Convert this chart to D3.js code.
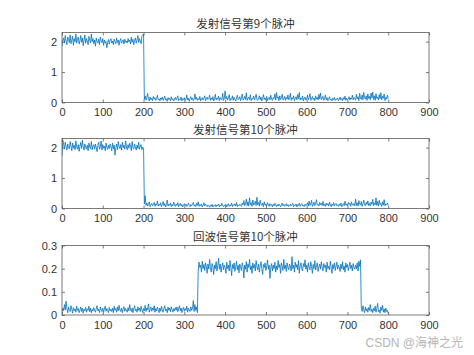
<!DOCTYPE html>
<html><head><meta charset="utf-8">
<script src="https://cdn.jsdelivr.net/npm/d3@7"></script>
<style>
html,body{margin:0;padding:0;background:#fff;}
svg{display:block;}
</style></head>
<body>
<svg id="chart" width="474" height="355"></svg>
<script>
// ---------- data (samples 0..800, every 2nd sample) ----------
const lastSample = 800;
const titles = ["发射信号第9个脉冲", "发射信号第10个脉冲", "回波信号第10个脉冲"];
const xTicks = [0, 100, 200, 300, 400, 500, 600, 700, 800, 900];
const yTicksTx = [0, 1, 2];
const yTicksEcho = [0, 0.1, 0.2, 0.3];

const pulse9 = [
1.85,2.05,2.12,1.95,2.20,2.02,1.90,2.15,2.08,1.97,2.22,1.93,2.05,2.18,1.88,2.10,2.00,2.25,1.95,2.08,
2.15,1.92,2.03,2.20,1.98,2.12,1.87,2.05,2.22,1.95,2.10,2.02,1.90,2.17,2.05,1.96,2.25,2.00,2.10,1.93,
2.05,1.85,2.12,2.00,1.95,2.08,1.90,2.15,2.03,1.97,2.10,1.88,2.05,1.95,2.00,1.80,1.98,2.07,1.92,2.05,
2.10,1.95,2.02,1.90,2.08,2.00,1.93,2.12,1.97,2.05,1.88,2.03,2.10,1.95,2.00,2.06,1.92,2.08,1.98,2.02,
1.95,2.10,2.00,2.05,1.92,2.15,1.98,2.08,1.90,2.03,2.12,1.95,2.05,2.20,1.97,2.10,2.02,1.93,2.18,2.22,
2.25,0.10,0.22,0.08,0.15,0.30,0.12,0.05,0.18,0.09,0.14,0.06,0.20,0.11,0.16,0.07,0.13,0.24,0.09,0.12,
0.05,0.15,0.10,0.18,0.07,0.13,0.21,0.08,0.12,0.04,0.16,0.10,0.14,0.06,0.19,0.09,0.13,0.05,0.11,0.17,
0.08,0.14,0.22,0.06,0.12,0.09,0.18,0.05,0.13,0.10,0.16,0.07,0.11,0.25,0.08,0.14,0.04,0.12,0.19,0.09,
0.15,0.06,0.11,0.28,0.10,0.17,0.07,0.13,0.09,0.20,0.05,0.12,0.16,0.08,0.14,0.22,0.06,0.11,0.18,0.10,
0.13,0.24,0.07,0.15,0.09,0.19,0.05,0.12,0.27,0.08,0.14,0.10,0.21,0.06,0.16,0.11,0.09,0.30,0.07,0.13,
0.38,0.12,0.20,0.08,0.15,0.26,0.06,0.13,0.10,0.22,0.07,0.17,0.11,0.05,0.14,0.24,0.09,0.12,0.19,0.06,
0.15,0.28,0.08,0.12,0.20,0.10,0.32,0.07,0.14,0.18,0.09,0.25,0.06,0.13,0.11,0.21,0.08,0.16,0.27,0.10,
0.07,0.14,0.22,0.09,0.18,0.05,0.12,0.26,0.10,0.15,0.08,0.20,0.06,0.13,0.17,0.09,0.24,0.11,0.07,0.16,
0.12,0.28,0.08,0.33,0.14,0.19,0.06,0.22,0.10,0.15,0.27,0.08,0.13,0.20,0.07,0.17,0.11,0.25,0.09,0.14,
0.30,0.07,0.16,0.11,0.22,0.06,0.13,0.19,0.09,0.26,0.12,0.33,0.08,0.15,0.10,0.21,0.05,0.14,0.18,0.08,
0.12,0.24,0.09,0.16,0.29,0.07,0.13,0.20,0.10,0.15,0.06,0.22,0.11,0.17,0.08,0.27,0.12,0.31,0.09,0.14,
0.20,0.07,0.12,0.25,0.09,0.16,0.06,0.13,0.19,0.08,0.11,0.05,0.14,0.09,0.17,0.07,0.12,0.10,0.15,0.06,
0.11,0.18,0.08,0.13,0.06,0.16,0.10,0.21,0.07,0.14,0.09,0.12,0.19,0.08,0.15,0.11,0.24,0.09,0.17,0.13,
0.08,0.27,0.12,0.19,0.06,0.30,0.14,0.10,0.25,0.09,0.33,0.16,0.11,0.22,0.07,0.28,0.13,0.20,0.09,0.31,
0.15,0.34,0.10,0.22,0.07,0.29,0.13,0.18,0.08,0.26,0.12,0.32,0.09,0.20,0.14,0.28,0.06,0.17,0.11,0.24,
0.13];

const pulse10 = [
1.72,2.25,2.10,1.95,2.18,2.03,1.92,2.12,2.00,1.96,2.20,2.05,1.90,2.15,1.98,2.08,1.93,2.22,2.02,1.95,
2.10,1.88,2.05,2.17,1.97,2.25,2.03,1.92,2.12,2.00,1.95,2.08,1.90,2.15,2.02,1.97,2.20,1.93,2.06,2.10,
1.95,2.12,2.00,1.87,2.08,2.18,1.95,2.03,2.22,1.92,2.10,1.98,2.05,1.90,2.15,2.00,1.94,2.08,1.97,2.12,
2.03,1.90,2.15,1.96,2.08,1.75,2.00,2.12,1.93,2.20,2.05,1.97,2.10,1.92,2.18,2.00,2.08,1.95,2.22,2.02,
1.93,2.10,1.98,2.15,2.05,1.90,2.20,2.00,1.95,2.12,2.03,1.92,2.08,1.97,2.18,1.95,2.05,2.10,1.93,2.02,
1.98,0.15,0.42,0.10,0.18,0.08,0.14,0.22,0.06,0.12,0.17,0.09,0.13,0.20,0.07,0.15,0.11,0.25,0.08,0.14,
0.10,0.19,0.06,0.13,0.23,0.09,0.16,0.05,0.12,0.28,0.08,0.14,0.10,0.18,0.06,0.13,0.09,0.21,0.11,0.07,
0.15,0.10,0.19,0.06,0.12,0.17,0.08,0.13,0.05,0.11,0.16,0.09,0.14,0.07,0.12,0.18,0.10,0.06,0.13,0.09,
0.14,0.20,0.08,0.12,0.06,0.17,0.10,0.22,0.07,0.13,0.09,0.15,0.05,0.11,0.19,0.08,0.14,0.10,0.06,0.12,
0.09,0.04,0.11,0.07,0.14,0.05,0.10,0.08,0.13,0.06,0.12,0.09,0.15,0.05,0.11,0.08,0.17,0.10,0.06,0.12,
0.08,0.14,0.05,0.11,0.16,0.07,0.12,0.09,0.18,0.06,0.13,0.10,0.15,0.08,0.20,0.06,0.12,0.09,0.14,0.11,
0.07,0.18,0.12,0.26,0.09,0.15,0.31,0.10,0.22,0.08,0.35,0.13,0.19,0.07,0.28,0.11,0.16,0.24,0.09,0.37,
0.12,0.20,0.08,0.27,0.14,0.10,0.18,0.06,0.22,0.11,0.15,0.08,0.19,0.12,0.07,0.16,0.10,0.13,0.05,0.14,
0.09,0.17,0.11,0.06,0.13,0.08,0.15,0.10,0.05,0.12,0.18,0.09,0.14,0.07,0.11,0.16,0.08,0.13,0.06,0.10,
0.14,0.08,0.12,0.17,0.06,0.11,0.09,0.15,0.05,0.13,0.10,0.18,0.07,0.12,0.16,0.08,0.11,0.06,0.14,0.09,
0.12,0.19,0.08,0.24,0.10,0.15,0.27,0.07,0.13,0.21,0.09,0.16,0.29,0.11,0.14,0.08,0.20,0.12,0.17,0.10,
0.23,0.09,0.14,0.07,0.18,0.11,0.16,0.08,0.21,0.12,0.06,0.15,0.10,0.19,0.08,0.13,0.17,0.09,0.12,0.07,
0.14,0.10,0.18,0.06,0.12,0.16,0.09,0.24,0.11,0.15,0.08,0.20,0.13,0.17,0.07,0.22,0.12,0.10,0.16,0.09,
0.31,0.10,0.19,0.08,0.26,0.14,0.11,0.23,0.07,0.16,0.28,0.12,0.09,0.20,0.13,0.25,0.10,0.17,0.08,0.21,
0.14,0.30,0.09,0.19,0.12,0.35,0.10,0.23,0.08,0.27,0.13,0.17,0.07,0.22,0.11,0.29,0.09,0.15,0.12,0.18,
0.10];

const echo10 = [
0.012,0.030,0.018,0.045,0.022,0.060,0.028,0.010,0.035,0.020,0.015,0.040,0.025,0.008,0.032,0.018,0.026,0.012,0.038,0.020,
0.028,0.010,0.022,0.035,0.015,0.030,0.008,0.025,0.018,0.033,0.012,0.027,0.020,0.038,0.014,0.030,0.010,0.024,0.017,0.032,
0.020,0.012,0.028,0.040,0.018,0.025,0.010,0.035,0.022,0.015,0.030,0.012,0.026,0.038,0.016,0.028,0.020,0.010,0.033,0.018,
0.025,0.015,0.030,0.010,0.038,0.020,0.028,0.012,0.035,0.018,0.042,0.022,0.015,0.030,0.010,0.026,0.036,0.016,0.028,0.020,
0.012,0.032,0.018,0.045,0.022,0.015,0.030,0.010,0.027,0.040,0.018,0.025,0.012,0.035,0.020,0.030,0.015,0.038,0.022,0.010,
0.028,0.018,0.042,0.015,0.030,0.022,0.048,0.012,0.026,0.035,0.016,0.030,0.020,0.040,0.012,0.028,0.018,0.034,0.022,0.010,
0.030,0.016,0.038,0.022,0.012,0.028,0.040,0.018,0.025,0.010,0.034,0.020,0.030,0.014,0.036,0.022,0.012,0.028,0.018,0.032,
0.020,0.035,0.014,0.026,0.040,0.018,0.030,0.010,0.025,0.033,0.016,0.028,0.020,0.038,0.012,0.030,0.022,0.015,0.035,0.020,
0.028,0.062,0.015,0.045,0.020,0.035,0.010,0.190,0.228,0.205,0.215,0.185,0.232,0.200,0.218,0.192,0.225,0.208,0.180,0.220,
0.198,0.240,0.205,0.185,0.222,0.210,0.175,0.215,0.200,0.230,0.190,0.212,0.245,0.198,0.220,0.185,0.208,0.225,0.195,0.215,
0.205,0.180,0.228,0.200,0.215,0.190,0.235,0.205,0.170,0.218,0.200,0.225,0.188,0.210,0.232,0.195,0.215,0.182,0.220,0.205,
0.192,0.225,0.210,0.160,0.215,0.198,0.230,0.185,0.220,0.205,0.240,0.195,0.212,0.180,0.225,0.202,0.218,0.190,0.235,0.208,
0.195,0.220,0.185,0.210,0.230,0.200,0.175,0.218,0.205,0.225,0.192,0.212,0.238,0.198,0.215,0.158,0.208,0.222,0.190,0.215,
0.200,0.228,0.185,0.212,0.195,0.235,0.205,0.218,0.180,0.225,0.210,0.192,0.240,0.200,0.215,0.188,0.225,0.205,0.195,0.220,
0.208,0.190,0.252,0.200,0.215,0.185,0.228,0.205,0.218,0.195,0.235,0.180,0.210,0.225,0.200,0.190,0.222,0.208,0.238,0.198,
0.215,0.185,0.225,0.205,0.195,0.230,0.210,0.180,0.218,0.200,0.235,0.195,0.212,0.225,0.188,0.208,0.220,0.198,0.230,0.205,
0.190,0.222,0.205,0.215,0.185,0.228,0.200,0.210,0.195,0.232,0.205,0.180,0.218,0.200,0.225,0.192,0.210,0.228,0.198,0.215,
0.205,0.188,0.220,0.200,0.230,0.195,0.212,0.185,0.225,0.205,0.218,0.192,0.210,0.228,0.200,0.215,0.190,0.222,0.205,0.198,
0.215,0.200,0.225,0.190,0.232,0.210,0.238,0.030,0.015,0.040,0.022,0.010,0.035,0.018,0.028,0.012,0.032,0.020,0.045,0.015,
0.025,0.010,0.030,0.018,0.038,0.012,0.028,0.050,0.015,0.022,0.008,0.035,0.020,0.042,0.012,0.026,0.010,0.030,0.015,0.020,
0.005];

// ---------- layout ----------
const svg = d3.select("#chart");
const left = 62, right = 429;
const panels = [
  {title: titles[0], data: pulse9, yMax: 2.3, yTicks: yTicksTx, top: 32.5, bottom: 102.5},
  {title: titles[1], data: pulse10, yMax: 2.3, yTicks: yTicksTx, top: 138.5, bottom: 208.5},
  {title: titles[2], data: echo10, yMax: 0.3, yTicks: yTicksEcho, top: 245.5, bottom: 315}
];
const axisColor = "#5a5a5a";
const textColor = "#333";
const lineColor = "#0072BD";
const tickFont = "Arial, 'Liberation Sans', sans-serif";

panels.forEach((p, pi) => {
  const x = d3.scaleLinear().domain([0, 900]).range([left, right]);
  const y = d3.scaleLinear().domain([0, p.yMax]).range([p.bottom, p.top]);
  const step = lastSample / (p.data.length - 1);
  const g = svg.append("g");

  const clipId = "clip" + pi;
  svg.append("clipPath").attr("id", clipId).append("rect")
    .attr("x", left).attr("y", p.top).attr("width", right - left).attr("height", p.bottom - p.top);

  const line = d3.line().x((d, i) => x(i * step)).y(d => y(d));
  g.append("path").datum(p.data)
    .attr("clip-path", `url(#${clipId})`)
    .attr("fill", "none").attr("stroke", lineColor).attr("stroke-width", 0.8)
    .attr("stroke-linejoin", "round")
    .attr("d", line);

  const tl = 3;
  const ax = g.append("g").attr("transform", `translate(0,${p.bottom})`)
    .call(d3.axisBottom(x).tickValues(xTicks).tickSize(-tl).tickPadding(6).tickFormat(d3.format("d")));
  const axT = g.append("g").attr("transform", `translate(0,${p.top})`)
    .call(d3.axisTop(x).tickValues(xTicks).tickSize(-tl).tickFormat(""));
  const ay = g.append("g").attr("transform", `translate(${left},0)`)
    .call(d3.axisLeft(y).tickValues(p.yTicks).tickSize(-tl).tickPadding(5).tickFormat(d => d3.format("~g")(d)));
  const ayR = g.append("g").attr("transform", `translate(${right},0)`)
    .call(d3.axisRight(y).tickValues(p.yTicks).tickSize(-tl).tickFormat(""));

  [ax, axT, ay, ayR].forEach(a => {
    a.select(".domain").remove();
    a.selectAll(".tick line").attr("stroke", axisColor).attr("stroke-width", 0.8);
    a.selectAll(".tick text").attr("fill", textColor).attr("font-family", tickFont).attr("font-size", 11);
  });

  g.append("rect").attr("x", left).attr("y", p.top)
    .attr("width", right - left).attr("height", p.bottom - p.top)
    .attr("fill", "none").attr("stroke", axisColor).attr("stroke-width", 0.8);

  g.append("text").attr("x", (left + right) / 2).attr("y", p.top - 5)
    .attr("text-anchor", "middle").attr("fill", textColor)
    .attr("font-family", "'Noto Sans CJK SC', sans-serif").attr("font-size", 11.5)
    .text(p.title);
});

svg.append("text").attr("x", 463).attr("y", 347).attr("text-anchor", "end")
  .attr("fill", "#b5b5b5").attr("font-family", "Arial, 'Noto Sans CJK SC', sans-serif")
  .attr("font-size", 12).text("CSDN @海神之光");
</script>
</body></html>
